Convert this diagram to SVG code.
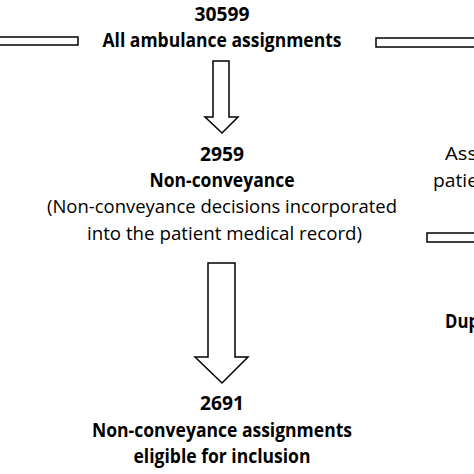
<svg xmlns="http://www.w3.org/2000/svg" width="474" height="474" viewBox="0 0 474 474">
<style>
text{font-family:"Open Sans","Liberation Sans",sans-serif;fill:#000;font-size:19px}
.b{font-weight:bold}
.m{text-anchor:middle}
.shape{fill:#fff;stroke:#000;stroke-width:1.5}
</style>
<rect width="474" height="474" fill="#fff"/>
<g id="connectors">
<rect class="shape" x="-2" y="37" width="80" height="8"/>
<rect class="shape" x="376" y="38" width="102" height="9"/>
<rect class="shape" x="427" y="233" width="52" height="9"/>
<polygon class="shape" points="213,61 229,61 229,117 238,117 222,133 205,117 213,117"/>
<polygon class="shape" points="208,263 235,263 235,357 248,357 222,383 195,357 208,357"/>
</g>
<g id="node-all">
<text class="b m" x="222" y="21" textLength="55" lengthAdjust="spacingAndGlyphs">30599</text>
<text class="b m" x="222" y="47" textLength="239" lengthAdjust="spacingAndGlyphs">All ambulance assignments</text>
</g>
<g id="node-nonconv">
<text class="b m" x="222" y="161" textLength="44" lengthAdjust="spacingAndGlyphs">2959</text>
<text class="b m" x="222" y="187" textLength="145" lengthAdjust="spacingAndGlyphs">Non-conveyance</text>
<text class="m" x="222" y="213" textLength="350" lengthAdjust="spacingAndGlyphs">(Non-conveyance decisions incorporated</text>
<text class="m" x="224.5" y="240" textLength="275" lengthAdjust="spacingAndGlyphs">into the patient medical record)</text>
</g>
<g id="node-eligible">
<text class="b m" x="222" y="410" textLength="44" lengthAdjust="spacingAndGlyphs">2691</text>
<text class="b m" x="222" y="437" textLength="260" lengthAdjust="spacingAndGlyphs">Non-conveyance assignments</text>
<text class="b m" x="222" y="463" textLength="177" lengthAdjust="spacingAndGlyphs">eligible for inclusion</text>
</g>
<g id="node-right">
<text x="445" y="160" textLength="32" lengthAdjust="spacingAndGlyphs">Ass</text>
<text x="433" y="187" textLength="45" lengthAdjust="spacingAndGlyphs">patie</text>
<text class="b" x="445" y="328" textLength="34" lengthAdjust="spacingAndGlyphs">Dup</text>
</g>
</svg>
